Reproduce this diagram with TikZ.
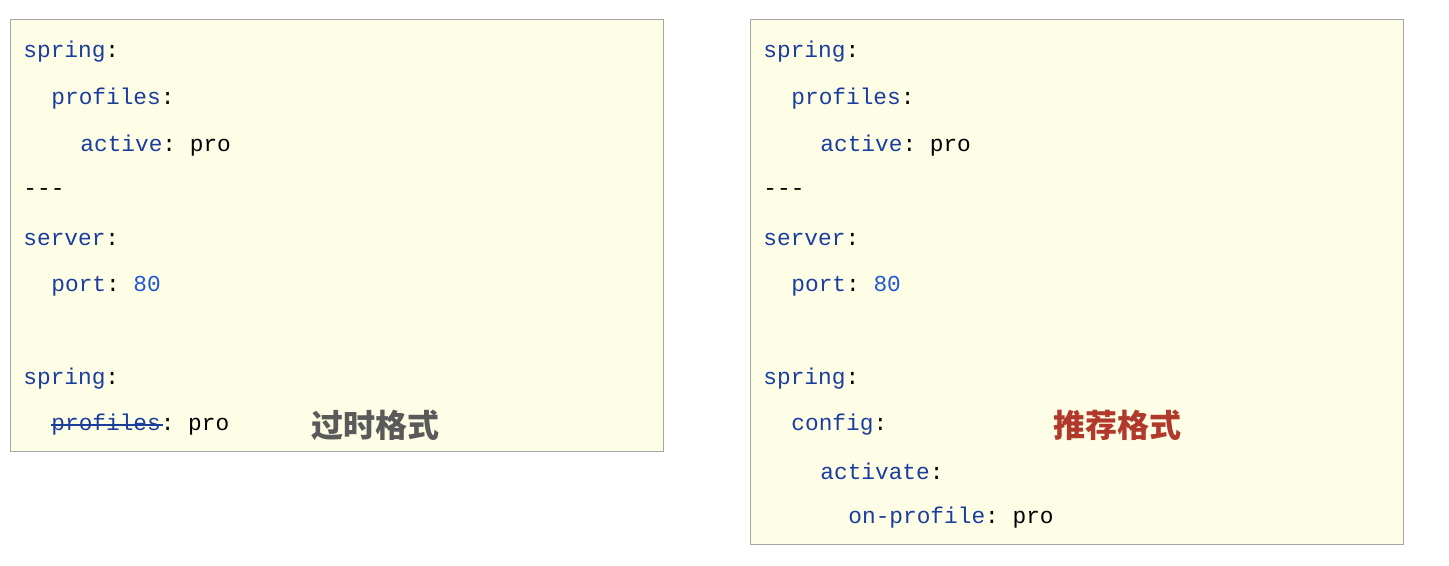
\documentclass[tikz,border=0pt]{standalone}
\usepackage{fontspec}
\setmonofont{Liberation Mono}
\newfontfamily\cjk{Noto Sans CJK SC}
\definecolor{bgy}{HTML}{FEFDE6}
\definecolor{kw}{HTML}{1A3D9E}
\definecolor{num}{HTML}{2257D6}
\definecolor{old}{HTML}{5A5A5A}
\definecolor{rec}{HTML}{B0392B}
\tikzset{
 panel/.style={draw=black!35, fill=bgy, line width=0.5pt},
 code/.style={anchor=west, inner sep=0pt, font=\fontsize{11.4pt}{12pt}\ttfamily},
 tag/.style={inner sep=0pt, font=\fontsize{16pt}{18pt}\cjk\bfseries}
}
\begin{document}
\begin{tikzpicture}[x=0.5pt,y=-0.5pt]
\useasboundingbox (0,0) rectangle (1449,566);
\draw[panel] (10,20) rectangle (663,451);
\draw[panel] (750,20) rectangle (1403,544);
% left
\node[code] (l1) at (23,52) {\textcolor{kw}{spring}:};
\node[code] (l2) at (51,99) {\textcolor{kw}{profiles}:};
\node[code] (l3) at (80,146) {\textcolor{kw}{active}: pro};
\node[code] (l4) at (23,192) {---};
\node[code] (l5) at (23,239) {\textcolor{kw}{server}:};
\node[code] (l6) at (51,286) {\textcolor{kw}{port}: \textcolor{num}{80}};
\node[code] (l7) at (23,379) {\textcolor{kw}{spring}:};
\node[code] (l8) at (51,425) {\textcolor{kw}{profiles}: pro};
\draw[kw, line width=0.6pt] (51,425) -- (163,425);
\node[tag, text=old] (t1) at (375,425) {过时格式};
% right
\node[code] (r1) at (763,52) {\textcolor{kw}{spring}:};
\node[code] (r2) at (791,99) {\textcolor{kw}{profiles}:};
\node[code] (r3) at (820,146) {\textcolor{kw}{active}: pro};
\node[code] (r4) at (763,192) {---};
\node[code] (r5) at (763,239) {\textcolor{kw}{server}:};
\node[code] (r6) at (791,286) {\textcolor{kw}{port}: \textcolor{num}{80}};
\node[code] (r7) at (763,379) {\textcolor{kw}{spring}:};
\node[code] (r8) at (791,425) {\textcolor{kw}{config}:};
\node[code] (r9) at (820,471) {\textcolor{kw}{activate}:};
\node[code] (r10) at (848,518) {\textcolor{kw}{on-profile}: pro};
\node[tag, text=rec] (t2) at (1117,425) {推荐格式};
\end{tikzpicture}
\end{document}
